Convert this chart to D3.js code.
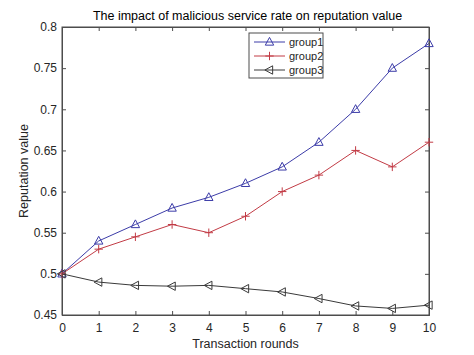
<!DOCTYPE html>
<html><head><meta charset="utf-8">
<script src="https://cdn.jsdelivr.net/npm/d3@7"></script>
<style>body{margin:0;background:#fff}svg{display:block}text{font-family:"Liberation Sans",Arial,sans-serif}</style>
</head><body>
<svg id="c" width="474" height="355"></svg>
<script>
const rounds = [0,1,2,3,4,5,6,7,8,9,10];
const group1 = [0.5,0.54,0.56,0.58,0.593,0.61,0.63,0.66,0.70,0.75,0.78];
const group2 = [0.5,0.53,0.545,0.56,0.55,0.57,0.60,0.62,0.65,0.63,0.66];
const group3 = [0.5,0.49,0.486,0.485,0.486,0.482,0.478,0.47,0.461,0.458,0.462];
const yTicks = [0.45,0.5,0.55,0.6,0.65,0.7,0.75,0.8];
const seriesNames = ["group1","group2","group3"];

const svg = d3.select("#c");
const L=62,R=429,T=27,B=315;
const x = d3.scaleLinear().domain([0,10]).range([L,R]);
const y = d3.scaleLinear().domain([0.45,0.8]).range([B,T]);
const axisCol="#4d4d4d", txtCol="#262626";

// box
svg.append("rect").attr("x",L).attr("y",T).attr("width",R-L).attr("height",B-T)
  .attr("fill","#fff").attr("stroke",axisCol).attr("stroke-width",1);

const tl=4;
const fmt = v => String(+v.toFixed(2)).replace(/^0(?=\.)/,"0");
// x axis
const xa = svg.append("g").attr("transform",`translate(0,${B})`)
  .call(d3.axisBottom(x).tickValues(rounds).tickSize(-tl).tickPadding(8).tickFormat(d3.format("d")));
const ya = svg.append("g").attr("transform",`translate(${L},0)`)
  .call(d3.axisLeft(y).tickValues(yTicks).tickSize(-tl).tickPadding(5).tickFormat(d=>String(+d.toFixed(2))));
const xt = svg.append("g").attr("transform",`translate(0,${T})`)
  .call(d3.axisTop(x).tickValues(rounds).tickSize(-tl).tickFormat(""));
const yr = svg.append("g").attr("transform",`translate(${R},0)`)
  .call(d3.axisRight(y).tickValues(yTicks).tickSize(-tl).tickFormat(""));
[xa,ya,xt,yr].forEach(g=>{
  g.select(".domain").attr("stroke",axisCol);
  g.selectAll(".tick line").attr("stroke",axisCol);
  g.selectAll("text").attr("fill",txtCol).attr("font-size",12).attr("font-family","Liberation Sans,Arial,sans-serif");
});

const cols = ["#3c3ca8","#c23b45","#3a3a3a"];
const data=[group1,group2,group3];
const line = d3.line().x((d,i)=>x(rounds[i])).y(d=>y(d));

function marker(g,type,cx,cy,col){
  const s=4.2;
  if(type===0){
    g.append("path").attr("d",`M${cx},${cy-s*1.1}L${cx+s},${cy+s*0.75}L${cx-s},${cy+s*0.75}Z`)
      .attr("fill","none").attr("stroke",col).attr("stroke-width",1);
  } else if(type===1){
    g.append("path").attr("d",`M${cx-s},${cy}H${cx+s}M${cx},${cy-s}V${cy+s}`)
      .attr("fill","none").attr("stroke",col).attr("stroke-width",1);
  } else {
    g.append("path").attr("d",`M${cx-s*1.1},${cy}L${cx+s*0.75},${cy-s}L${cx+s*0.75},${cy+s}Z`)
      .attr("fill","none").attr("stroke",col).attr("stroke-width",1);
  }
}

data.forEach((ser,k)=>{
  const g=svg.append("g");
  g.append("path").datum(ser).attr("d",line).attr("fill","none").attr("stroke",cols[k]).attr("stroke-width",1);
  ser.forEach((v,i)=>marker(g,k,x(rounds[i]),y(v),cols[k]));
});

// legend
const lg = svg.append("g");
lg.append("rect").attr("x",249).attr("y",33).attr("width",74).attr("height",45)
  .attr("fill","#fff").attr("stroke",axisCol).attr("stroke-width",1);
seriesNames.forEach((n,k)=>{
  const yy=42+k*14;
  lg.append("line").attr("x1",254).attr("x2",285).attr("y1",yy).attr("y2",yy).attr("stroke",cols[k]);
  marker(lg,k,269.5,yy,cols[k]);
  lg.append("text").attr("x",289).attr("y",yy+4).attr("font-size",11).attr("fill",txtCol).text(n);
});

svg.append("text").attr("x",(L+R)/2+2).attr("y",20).attr("text-anchor","middle")
  .attr("font-size",12.5).attr("fill","#000").text("The impact of malicious service rate on reputation value");
svg.append("text").attr("x",(L+R)/2).attr("y",348).attr("text-anchor","middle")
  .attr("font-size",12.5).attr("fill",txtCol).text("Transaction rounds");
svg.append("text").attr("transform",`translate(28,${(T+B)/2}) rotate(-90)`).attr("text-anchor","middle")
  .attr("font-size",12.5).attr("fill",txtCol).text("Reputation value");
</script>
</body></html>
